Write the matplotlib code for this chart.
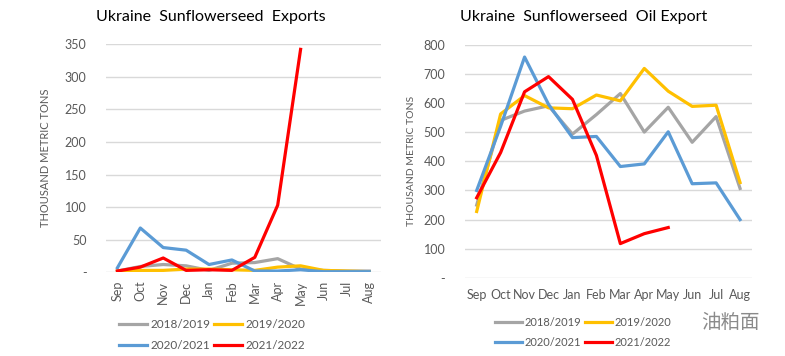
import matplotlib
matplotlib.use("Agg")
import matplotlib.pyplot as plt
from matplotlib.ticker import FuncFormatter

plt.rcParams['font.family'] = ['Lato', 'DejaVu Sans']

months = ["Sep", "Oct", "Nov", "Dec", "Jan", "Feb", "Mar", "Apr", "May", "Jun", "Jul", "Aug"]
seasons = ["2018/2019", "2019/2020", "2020/2021", "2021/2022"]
colors = ["#A5A5A5", "#FFC000", "#5B9BD5", "#FF0000"]

seed_1819 = [2, 9, 12, 10, 3, 14, 15, 21, 5, 3, 2, 2]
seed_1920 = [2, 3, 3, 5, 5, 4, 3, 8, 10, 3, 2, 1]
seed_2021 = [7, 68, 38, 34, 12, 19, 2, 2, 4, 1, 1, 1]
seed_2122 = [2, 8, 22, 3, 4, 3, 23, 103, 342]

oil_1819 = [250, 540, 572, 590, 493, 560, 632, 500, 585, 465, 553, 307]
oil_1920 = [228, 562, 625, 583, 580, 627, 607, 718, 640, 588, 592, 327]
oil_2021 = [300, 520, 757, 595, 481, 485, 382, 391, 501, 323, 326, 200]
oil_2122 = [275, 430, 638, 690, 612, 420, 118, 152, 173]

fig = plt.figure(figsize=(7.85, 3.56), dpi=100)

def fmt(v, p):
    return "-" if v == 0 else f"{int(v)}"

def style(ax, ymax, step, ylfs):
    ax.set_xlim(-0.5, 11.5)
    ax.set_ylim(0, ymax)
    ax.set_yticks(range(0, ymax + 1, step))
    ax.yaxis.set_major_formatter(FuncFormatter(fmt))
    ax.grid(axis='y', color='#D9D9D9', linewidth=1)
    ax.set_axisbelow(True)
    for s in ax.spines.values():
        s.set_visible(False)
    ax.tick_params(length=0, colors='#595959', labelsize=9)
    ax.set_ylabel("THOUSAND METRIC TONS", color='#595959', fontsize=ylfs)

x = list(range(12))
lw = 2.3

ax1 = fig.add_axes([0.135, 0.235, 0.350, 0.641])
for d, c, lab in zip([seed_1819, seed_1920, seed_2021, seed_2122], colors, seasons):
    ax1.plot(x[:len(d)], d, color=c, linewidth=lw, label=lab)
style(ax1, 350, 50, 8)
ax1.set_xticks(x)
ax1.set_xticklabels(months, rotation=90)
ax1.tick_params(axis='x', pad=6)
ax1.tick_params(axis='y', pad=14)
ax1.yaxis.labelpad = 10
fig.text(0.268, 0.952, "Ukraine  Sunflowerseed  Exports", fontsize=11.5,
         color='#000000', ha='center', va='center')

ax2 = fig.add_axes([0.592, 0.219, 0.366, 0.656])
for d, c, lab in zip([oil_1819, oil_1920, oil_2021, oil_2122], colors, seasons):
    ax2.plot(x[:len(d)], d, color=c, linewidth=lw, label=lab)
style(ax2, 800, 100, 7.5)
ax2.set_xticks(x)
ax2.set_xticklabels(months)
ax2.tick_params(axis='x', pad=8)
ax2.tick_params(axis='y', pad=14)
ax2.yaxis.labelpad = 5
fig.text(0.743, 0.952, "Ukraine  Sunflowerseed  Oil Export", fontsize=11.5,
         color='#000000', ha='center', va='center')

for ax, cx, cy, fs in [(ax1, 0.270, 0.059, 8.5), (ax2, 0.743, 0.066, 8)]:
    h, l = ax.get_legend_handles_labels()
    order = [0, 2, 1, 3]
    fig.legend([h[i] for i in order], [l[i] for i in order], ncol=2,
               loc='center', bbox_to_anchor=(cx, cy), frameon=False,
               fontsize=fs, handlelength=2.4, handletextpad=0.25,
               columnspacing=0.3, labelspacing=0.8, labelcolor='#595959',
               borderpad=0.1)

fig.text(0.93, 0.095, "油粕面", family=['Noto Sans CJK SC', 'DejaVu Sans'],
         fontsize=14, color='#8a8a8a', ha='center', va='center')

fig.savefig("out.png", dpi=100)
